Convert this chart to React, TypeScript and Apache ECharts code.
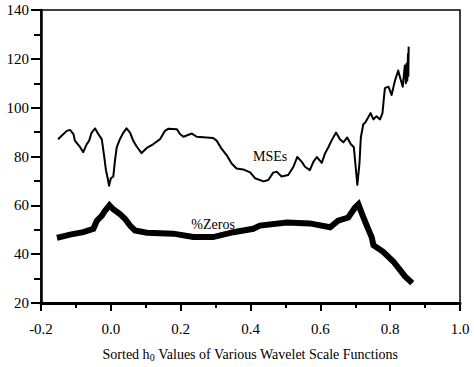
import React, { useEffect, useRef } from "react";
import * as echarts from "echarts";

const xTickLabels = ["-0.2", "0.0", "0.2", "0.4", "0.6", "0.8", "1.0"];
const yTickLabels = ["20", "40", "60", "80", "100", "120", "140"];

const mseX = [
  -0.151, -0.141, -0.126, -0.117, -0.107, -0.103, -0.088, -0.079, -0.069, -0.062,
  -0.055, -0.045, -0.036, -0.026, -0.02, -0.014, -0.009, -0.005, 0.0, 0.007,
  0.012, 0.017, 0.026, 0.036, 0.045, 0.055, 0.064, 0.074, 0.088, 0.103,
  0.122, 0.141, 0.155, 0.165, 0.189, 0.198, 0.208, 0.232, 0.246, 0.293,
  0.303, 0.317, 0.332, 0.346, 0.36, 0.379, 0.399, 0.413, 0.437, 0.451,
  0.465, 0.475, 0.489, 0.508, 0.523, 0.534, 0.547, 0.556, 0.57, 0.58,
  0.59, 0.604, 0.613, 0.623, 0.632, 0.645, 0.656, 0.666, 0.677, 0.687,
  0.696, 0.702, 0.706, 0.712, 0.716, 0.723, 0.728, 0.734, 0.744, 0.752,
  0.761, 0.771, 0.778, 0.782, 0.785, 0.795, 0.804, 0.814, 0.823, 0.828,
  0.836, 0.842, 0.845, 0.847, 0.849, 0.851, 0.852, 0.853,
];
const mseY = [
  87.1, 88.5, 90.5, 90.9, 89.2, 86.5, 83.8, 81.8, 85.1, 86.5,
  89.8, 91.5, 89.2, 87.1, 81.1, 74.4, 71.1, 68.0, 71.1, 71.8,
  78.5, 83.8, 87.1, 89.8, 91.5, 89.8, 86.5, 84.1, 81.4, 83.5,
  85.1, 87.1, 90.5, 91.4, 91.2, 89.2, 88.1, 89.4, 88.1, 87.6,
  86.5, 83.2, 80.5, 77.1, 75.1, 74.7, 73.5, 71.1, 69.8, 70.4,
  73.4, 73.8, 71.8, 72.4, 75.8, 79.8, 77.8, 75.8, 74.4, 77.8,
  79.8, 77.4, 81.1, 83.8, 86.5, 89.8, 87.1, 85.8, 87.8, 85.1,
  83.8, 74.4, 68.4, 77.1, 87.8, 93.2, 93.8, 95.2, 97.8, 95.2,
  96.5, 95.2, 97.8, 103.9, 108.0, 108.6, 105.2, 111.2, 115.2, 112.6,
  108.6, 117.3, 110, 118, 111, 122, 113, 125,
];

const zerosX = [
  -0.146, -0.117, -0.079, -0.05, -0.04, -0.026, -0.017, -0.004, 0.007, 0.026,
  0.041, 0.055, 0.069, 0.103, 0.179, 0.236, 0.293, 0.351, 0.408, 0.427,
  0.504, 0.57, 0.628, 0.651, 0.68, 0.699, 0.709, 0.718, 0.733, 0.747,
  0.752, 0.78, 0.809, 0.828, 0.842, 0.857,
];
const zerosY = [
  47.0, 48.0, 49.0, 50.4, 53.7, 55.7, 57.7, 60.0, 58.4, 56.4,
  54.4, 51.7, 49.7, 48.8, 48.4, 47.0, 47.0, 49.0, 50.4, 51.7,
  53.0, 52.6, 51.0, 53.7, 55.0, 59.0, 60.4, 57.0, 51.7, 47.0,
  43.7, 41.0, 37.0, 33.6, 31.0, 29.0,
];

const labelTexts = ["MSEs", "%Zeros"];
const labelAnchors: [number, number][] = [
  [0.456, 79.8],
  [0.293, 52.1],
];

const FONT = "Liberation Serif, Times New Roman, DejaVu Serif, serif";

export default function App() {
  const ref = useRef<HTMLDivElement>(null);
  useEffect(() => {
    if (!ref.current) return;
    const chart = echarts.init(ref.current, undefined, { renderer: "svg" });
    const axisLabelStyle = { color: "#000", fontFamily: FONT, fontSize: 15 };
    chart.setOption({
      animation: false,
      backgroundColor: "#fff",
      textStyle: { fontFamily: FONT },
      grid: {
        left: 41,
        right: 14,
        top: 10,
        bottom: 58,
        show: true,
        borderColor: "#000",
        borderWidth: 1.5,
        backgroundColor: "transparent",
      },
      xAxis: {
        type: "value",
        min: -0.2,
        max: 1.0,
        interval: 0.2,
        axisLine: { show: true, onZero: false, lineStyle: { color: "#000", width: 3 } },
        axisTick: { show: true, inside: false, length: 8, lineStyle: { color: "#000", width: 2 } },
        minorTick: { show: true, splitNumber: 2, length: 5, lineStyle: { color: "#000", width: 2 } },
        splitLine: { show: false },
        axisLabel: {
          ...axisLabelStyle,
          margin: 18,
          formatter: (v: number) => {
            const i = Math.round((v + 0.2) / 0.2);
            return xTickLabels[i] ?? "";
          },
        },
        name: "Sorted h{sub|0} Values of Various Wavelet Scale Functions",
        nameLocation: "middle",
        nameGap: 43,
        nameTextStyle: {
          color: "#000",
          fontFamily: FONT,
          fontSize: 14,
          lineHeight: 16,
          rich: {
            sub: {
              fontFamily: FONT,
              fontSize: 10,
              color: "#000",
              lineHeight: 16,
              verticalAlign: "bottom",
              padding: [6, 0, 0, 0],
            },
          },
        },
      },
      yAxis: {
        type: "value",
        min: 20,
        max: 140,
        interval: 20,
        axisLine: { show: true, onZero: false, lineStyle: { color: "#000", width: 2.5 } },
        axisTick: { show: true, inside: false, length: 10, lineStyle: { color: "#000", width: 2 } },
        minorTick: { show: true, splitNumber: 2, length: 7, lineStyle: { color: "#000", width: 2 } },
        splitLine: { show: false },
        axisLabel: {
          ...axisLabelStyle,
          margin: 12,
          formatter: (v: number) => {
            const i = Math.round((v - 20) / 20);
            return yTickLabels[i] ?? "";
          },
        },
      },
      series: [
        {
          name: "MSEs",
          type: "line",
          data: mseX.map((x, i) => [x, mseY[i]]),
          showSymbol: false,
          symbol: "none",
          lineStyle: { color: "#000", width: 2, join: "round" },
          z: 3,
        },
        {
          name: "%Zeros",
          type: "line",
          data: zerosX.map((x, i) => [x, zerosY[i]]),
          showSymbol: false,
          symbol: "none",
          lineStyle: { color: "#000", width: 6, cap: "square", join: "miter" },
          z: 2,
        },
      ],
    });
    const graphics = labelTexts.map((t, i) => {
      const p = chart.convertToPixel({ gridIndex: 0 }, labelAnchors[i]) as number[];
      return {
        type: "text",
        x: p[0],
        y: p[1],
        z: 10,
        style: {
          text: t,
          fill: "#000",
          fontFamily: FONT,
          fontSize: 14,
          align: "center",
          verticalAlign: "middle",
        },
      };
    });
    chart.setOption({ graphic: graphics });
    return () => chart.dispose();
  }, []);
  return (
    <div
      ref={ref}
      style={{ position: "fixed", left: 0, top: 0, width: 474, height: 367, background: "#fff" }}
    />
  );
}
